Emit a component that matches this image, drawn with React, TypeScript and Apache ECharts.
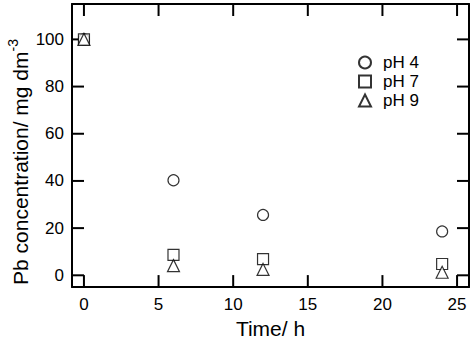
import React, { useEffect, useRef } from "react";
import * as echarts from "echarts";

const times = [0, 6, 12, 24];
const ph4 = [100, 40.3, 25.6, 18.6];
const ph7 = [100, 8.7, 6.9, 4.8];
const ph9 = [100, 4.1, 2.5, 1.3];
const xTicks = [0, 5, 10, 15, 20, 25];
const yTicks = [0, 20, 40, 60, 80, 100];
const seriesNames = ["pH 4", "pH 7", "pH 9"];

const FONT = "Liberation Sans, Arial, sans-serif";

export default function App() {
  const ref = useRef<HTMLDivElement>(null);
  useEffect(() => {
    if (!ref.current) return;
    const chart = echarts.init(ref.current, undefined, { renderer: "svg" });
    const mk = (vals: number[]) => times.map((t, i) => [t, vals[i]]);
    const xMin = -0.8, xMax = 25.8, yMin = -5, yMax = 115;
    const TL = 12;
    const base = {
      type: "value" as const,
      splitLine: { show: false },
      axisLine: { show: true, onZero: false, lineStyle: { color: "#000", width: 2 } },
      axisTick: { show: false },
    };
    const markerStyle = { color: "#fff", borderColor: "#000", borderWidth: 1.2 };
    // [tick value, side]  side 0=bottom 1=top 2=left 3=right
    const tickData: number[][] = [
      ...xTicks.map((v) => [v, 0]),
      ...xTicks.map((v) => [v, 1]),
      ...yTicks.map((v) => [v, 2]),
      ...yTicks.map((v) => [v, 3]),
    ];
    chart.setOption({
      animation: false,
      backgroundColor: "#fff",
      grid: { left: 72, right: 5, top: 4, bottom: 49, containLabel: false },
      xAxis: [
        {
          ...base,
          min: xMin,
          max: xMax,
          position: "bottom",
          axisLabel: { customValues: xTicks, color: "#000", fontSize: 17, fontFamily: FONT, margin: 9 },
          name: "Time/ h",
          nameLocation: "middle",
          nameGap: 28,
          nameTextStyle: { color: "#000", fontSize: 21, fontFamily: FONT },
        },
        { ...base, min: xMin, max: xMax, position: "top", axisLabel: { show: false } },
      ],
      yAxis: [
        {
          ...base,
          min: yMin,
          max: yMax,
          position: "left",
          axisLabel: { customValues: yTicks, color: "#000", fontSize: 17, fontFamily: FONT, margin: 8 },
        },
        { ...base, min: yMin, max: yMax, position: "right", axisLabel: { show: false } },
      ],
      legend: {
        orient: "vertical",
        left: 353,
        top: 49,
        itemWidth: 12,
        itemHeight: 12,
        itemGap: 2,
        textStyle: { color: "#000", fontSize: 17, fontFamily: FONT, padding: [0, 0, 0, 7] },
        data: seriesNames,
      },
      graphic: [
        {
          type: "text",
          x: 20,
          y: 162,
          rotation: Math.PI / 2,
          style: {
            text: "{m|Pb concentration/ mg dm}{s|-3}",
            align: "center",
            verticalAlign: "middle",
            fill: "#000",
            rich: {
              m: { fontSize: 21, fontFamily: FONT, fill: "#000" },
              s: { fontSize: 14, fontFamily: FONT, fill: "#000", verticalAlign: "top", padding: [0, 0, 14, 0] },
            },
          },
        },
      ],
      series: [
        {
          type: "custom",
          silent: true,
          xAxisIndex: 0,
          yAxisIndex: 0,
          data: tickData,
          renderItem: (params: any, api: any) => {
            const v = api.value(0);
            const side = api.value(1);
            const style = { stroke: "#000", lineWidth: 2 };
            if (side === 0) {
              const b = api.coord([v, yMin]);
              return { type: "line", shape: { x1: b[0], y1: b[1], x2: b[0], y2: b[1] - TL }, style };
            }
            if (side === 1) {
              const t = api.coord([v, yMax]);
              return { type: "line", shape: { x1: t[0], y1: t[1], x2: t[0], y2: t[1] + TL }, style };
            }
            if (side === 2) {
              const l = api.coord([xMin, v]);
              return { type: "line", shape: { x1: l[0], y1: l[1], x2: l[0] + TL, y2: l[1] }, style };
            }
            const r = api.coord([xMax, v]);
            return { type: "line", shape: { x1: r[0], y1: r[1], x2: r[0] - TL, y2: r[1] }, style };
          },
        },
        { name: seriesNames[0], type: "scatter", symbol: "circle", symbolSize: 11, data: mk(ph4), itemStyle: markerStyle },
        { name: seriesNames[1], type: "scatter", symbol: "rect", symbolSize: 11, data: mk(ph7), itemStyle: markerStyle },
        { name: seriesNames[2], type: "scatter", symbol: "triangle", symbolSize: 12, data: mk(ph9), itemStyle: markerStyle },
      ],
    });
    return () => chart.dispose();
  }, []);
  return <div ref={ref} style={{ width: 474, height: 344, position: "absolute", left: 0, top: 0 }} />;
}
